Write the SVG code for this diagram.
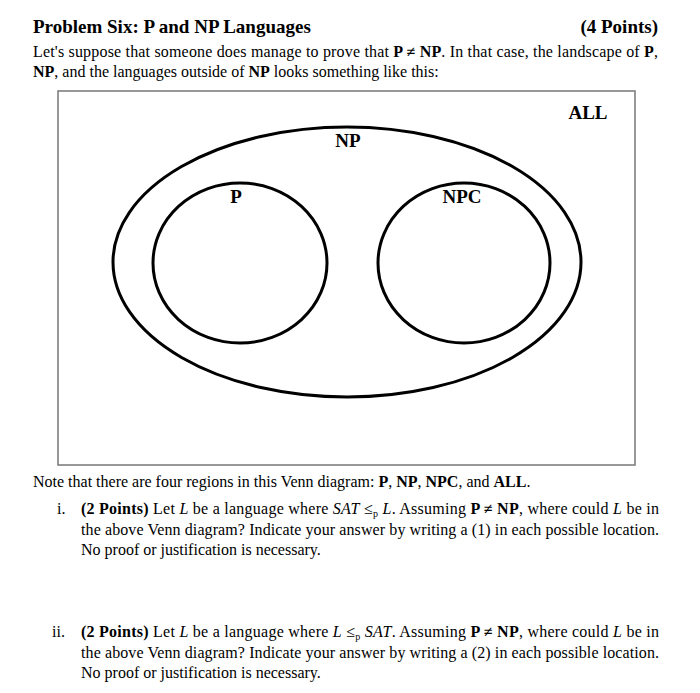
<svg xmlns="http://www.w3.org/2000/svg" width="700" height="693" viewBox="0 0 700 693">
<style>
text{font-family:"Liberation Serif","Times New Roman",serif;fill:#000}
.t{font-size:19px;font-weight:bold}
.b{font-size:16px}
.bold{font-weight:bold}
.i{font-style:italic}
.lbl{font-size:19px;font-weight:bold;text-anchor:middle}
.set{fill:none;stroke:#000;stroke-width:3}
</style>
<rect width="700" height="693" fill="#fff"/>
<g id="header">
<text class="t" x="33" y="33">Problem Six: P and NP Languages</text>
<text class="t" x="658" y="33" text-anchor="end">(4 Points)</text>
<text class="b" x="33" y="57" textLength="625" lengthAdjust="spacing">Let's suppose that someone does manage to prove that <tspan class="bold">P ≠ NP</tspan>. In that case, the landscape of <tspan class="bold">P</tspan>,</text>
<text class="b" x="33" y="77"><tspan class="bold">NP</tspan>, and the languages outside of <tspan class="bold">NP</tspan> looks something like this:</text>
</g>
<g id="ALL">
<rect x="58" y="91" width="577" height="374" fill="none" stroke="#777" stroke-width="1.5"/>
<text class="lbl" x="588" y="119">ALL</text>
</g>
<g id="NP">
<ellipse class="set" cx="347" cy="262" rx="234" ry="135"/>
<text class="lbl" x="348" y="147">NP</text>
</g>
<g id="P">
<ellipse class="set" cx="240" cy="263" rx="87" ry="80"/>
<text class="lbl" x="236" y="203">P</text>
</g>
<g id="NPC">
<ellipse class="set" cx="464" cy="263" rx="86" ry="80"/>
<text class="lbl" x="462" y="203">NPC</text>
</g>
<g id="connectors"></g>
<g id="questions">
<text class="b" x="33" y="487">Note that there are four regions in this Venn diagram: <tspan class="bold">P</tspan>, <tspan class="bold">NP</tspan>, <tspan class="bold">NPC</tspan>, and <tspan class="bold">ALL</tspan>.</text>
<text class="b" x="57" y="514">i.</text>
<text class="b" x="81" y="514" textLength="578" lengthAdjust="spacing"><tspan class="bold">(2 Points)</tspan> Let <tspan class="i">L</tspan> be a language where <tspan class="i">SAT</tspan> ≤<tspan font-size="10" dy="3">p</tspan><tspan dy="-3"> </tspan><tspan class="i">L</tspan>. Assuming <tspan class="bold">P ≠ NP</tspan>, where could <tspan class="i">L</tspan> be in</text>
<text class="b" x="81" y="535" textLength="578" lengthAdjust="spacing">the above Venn diagram? Indicate your answer by writing a (1) in each possible location.</text>
<text class="b" x="81" y="555">No proof or justification is necessary.</text>
<text class="b" x="52" y="637">ii.</text>
<text class="b" x="81" y="637" textLength="578" lengthAdjust="spacing"><tspan class="bold">(2 Points)</tspan> Let <tspan class="i">L</tspan> be a language where <tspan class="i">L</tspan> ≤<tspan font-size="10" dy="3">p</tspan><tspan dy="-3"> </tspan><tspan class="i">SAT</tspan>. Assuming <tspan class="bold">P ≠ NP</tspan>, where could <tspan class="i">L</tspan> be in</text>
<text class="b" x="81" y="658" textLength="578" lengthAdjust="spacing">the above Venn diagram? Indicate your answer by writing a (2) in each possible location.</text>
<text class="b" x="81" y="678">No proof or justification is necessary.</text>
</g>
</svg>
